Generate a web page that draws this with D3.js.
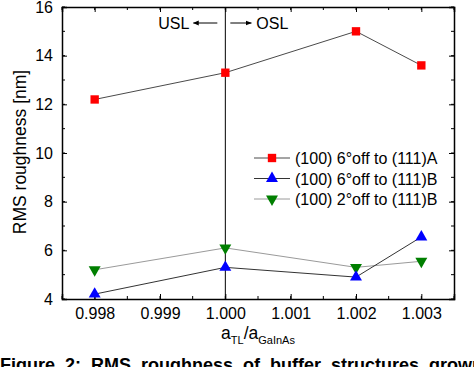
<!DOCTYPE html>
<html>
<head>
<meta charset="utf-8">
<script src="https://cdn.jsdelivr.net/npm/d3@7"></script>
<style>
  body { margin: 0; background: #fff; }
  svg { display: block; font-family: "Liberation Sans", Arial, sans-serif; }
</style>
</head>
<body>
<div id="chart"></div>
<script>
// values
var ratio = [0.998, 1.000, 1.002, 1.003];
var seriesA = [12.2, 13.3, 15.0, 13.6];   // (100) 6°off to (111)A
var seriesB = [4.2, 5.3, 4.9, 6.55];      // (100) 6°off to (111)B
var seriesC = [5.2, 6.1, 5.3, 5.55];      // (100) 2°off to (111)B
var seriesNames = ["(100) 6°off to (111)A", "(100) 6°off to (111)B", "(100) 2°off to (111)B"];
var xTicks = [0.998, 0.999, 1.000, 1.001, 1.002, 1.003];
var yTicks = [4, 6, 8, 10, 12, 14, 16];

var margin = {top: 7, right: 20, bottom: 68, left: 62},
    width = 474 - margin.left - margin.right,
    height = 367 - margin.top - margin.bottom;

var svg = d3.select("#chart")
    .append("svg")
    .attr("width", 474)
    .attr("height", 367)
    .append("g")
    .attr("transform", "translate(" + margin.left + "," + margin.top + ")");

var x = d3.scaleLinear().domain([0.9975, 1.0035]).range([0, width]);
var y = d3.scaleLinear().domain([4, 16]).range([height, 0]);

var xMinor = d3.range(0.9975, 1.0036, 0.0005);
var yMinor = d3.range(4, 16.01, 1);

// bottom axis (ticks pointing inward)
var axBottom = svg.append("g")
    .attr("transform", "translate(0," + height + ")");
axBottom.call(d3.axisBottom(x).tickValues(xTicks).tickSize(-5).tickPadding(9)
    .tickFormat(d3.format(".3f")));
axBottom.selectAll(".minor").data(xMinor).enter().append("line")
    .attr("class", "minor")
    .attr("x1", function(d) { return x(d); }).attr("x2", function(d) { return x(d); })
    .attr("y1", 0).attr("y2", -3).attr("stroke", "#000");

// top axis, no labels
var axTop = svg.append("g");
axTop.call(d3.axisTop(x).tickValues(xTicks).tickSize(-5).tickFormat(""));
axTop.selectAll(".minor").data(xMinor).enter().append("line")
    .attr("class", "minor")
    .attr("x1", function(d) { return x(d); }).attr("x2", function(d) { return x(d); })
    .attr("y1", 0).attr("y2", 3).attr("stroke", "#000");

// left axis
var axLeft = svg.append("g");
axLeft.call(d3.axisLeft(y).tickValues(yTicks).tickSize(-5).tickPadding(9));
axLeft.selectAll(".minor").data(yMinor).enter().append("line")
    .attr("class", "minor")
    .attr("y1", function(d) { return y(d); }).attr("y2", function(d) { return y(d); })
    .attr("x1", 0).attr("x2", 3).attr("stroke", "#000");

// right axis
var axRight = svg.append("g").attr("transform", "translate(" + width + ",0)");
axRight.call(d3.axisRight(y).tickValues(yTicks).tickSize(-5).tickFormat(""));
axRight.selectAll(".minor").data(yMinor).enter().append("line")
    .attr("class", "minor")
    .attr("y1", function(d) { return y(d); }).attr("y2", function(d) { return y(d); })
    .attr("x1", 0).attr("x2", -3).attr("stroke", "#000");

svg.selectAll(".domain").attr("stroke", "#000").attr("stroke-width", 1.5);
svg.selectAll(".tick line").attr("stroke", "#000");
svg.selectAll(".tick text").attr("fill", "#000").attr("font-size", 16);

// vertical line at lattice match
svg.append("line")
    .attr("x1", x(1.000)).attr("x2", x(1.000))
    .attr("y1", 0).attr("y2", height)
    .attr("stroke", "#000").attr("stroke-width", 1);

// USL / OSL arrows
var defs = svg.append("defs");
defs.append("marker")
    .attr("id", "head")
    .attr("viewBox", "0 0 10 10")
    .attr("refX", 9).attr("refY", 5)
    .attr("markerWidth", 6).attr("markerHeight", 6)
    .attr("orient", "auto")
    .append("path").attr("d", "M0,1 L10,5 L0,9 Z").attr("fill", "#000");

var arrowY = 16;
svg.append("line")
    .attr("x1", x(1.000) - 8).attr("x2", x(1.000) - 32)
    .attr("y1", arrowY).attr("y2", arrowY)
    .attr("stroke", "#000").attr("stroke-width", 1)
    .attr("marker-end", "url(#head)");
svg.append("line")
    .attr("x1", x(1.000) + 5).attr("x2", x(1.000) + 26)
    .attr("y1", arrowY).attr("y2", arrowY)
    .attr("stroke", "#000").attr("stroke-width", 1)
    .attr("marker-end", "url(#head)");
svg.append("text")
    .attr("x", x(1.000) - 36).attr("y", arrowY + 6)
    .attr("text-anchor", "end")
    .style("font-size", "16px")
    .text("USL");
svg.append("text")
    .attr("x", x(1.000) + 31).attr("y", arrowY + 6)
    .style("font-size", "16px")
    .text("OSL");

// series
var sq = d3.symbol().type(d3.symbolSquare).size(70);
var tri = d3.symbol().type(d3.symbolTriangle).size(62);

var series = [
  {name: seriesNames[0], values: seriesA, line: "#4a4a4a", fill: "#ff0000", sym: sq, rot: 0},
  {name: seriesNames[1], values: seriesB, line: "#333333", fill: "#0000ff", sym: tri, rot: 0},
  {name: seriesNames[2], values: seriesC, line: "#9a9a9a", fill: "#007f00", sym: tri, rot: 180}
];

var line = d3.line()
    .x(function(d) { return x(d[0]); })
    .y(function(d) { return y(d[1]); });

// lines first, then markers on top
[2, 1, 0].forEach(function(i) {
  var s = series[i];
  var pts = ratio.map(function(r, j) { return [r, s.values[j]]; });
  svg.append("path")
      .datum(pts)
      .attr("d", line)
      .attr("fill", "none")
      .attr("stroke", s.line)
      .attr("stroke-width", 1);
});
[2, 1, 0].forEach(function(i) {
  var s = series[i];
  var pts = ratio.map(function(r, j) { return [r, s.values[j]]; });
  svg.append("g").selectAll("path")
      .data(pts)
      .enter().append("path")
      .attr("d", s.sym)
      .attr("transform", function(d) {
        return "translate(" + x(d[0]) + "," + y(d[1]) + ") rotate(" + s.rot + ")";
      })
      .attr("fill", s.fill);
});

// legend
var legend = svg.append("g")
    .attr("transform", "translate(" + (254 - margin.left) + "," + (158 - margin.top) + ")");
series.forEach(function(s, i) {
  var g = legend.append("g").attr("transform", "translate(0," + (i * 20.5) + ")");
  g.append("line").attr("x1", 0).attr("x2", 36).attr("y1", 0).attr("y2", 0)
      .attr("stroke", s.line).attr("stroke-width", 1);
  g.append("path").attr("d", s.sym)
      .attr("transform", "translate(18,0) rotate(" + s.rot + ")")
      .attr("fill", s.fill);
  g.append("text").attr("x", 41).attr("y", 6)
      .style("font-size", "16px")
      .text(s.name);
});

// axis titles
svg.append("text")
    .attr("transform", "rotate(-90)")
    .attr("x", -(152 - margin.top))
    .attr("y", 26 - margin.left)
    .attr("text-anchor", "middle")
    .style("font-size", "17.5px")
    .text("RMS roughness [nm]");

var xl = svg.append("text")
    .attr("x", 258 - margin.left)
    .attr("y", 339 - margin.top)
    .attr("text-anchor", "middle")
    .style("font-size", "17.5px");
xl.append("tspan").text("a");
xl.append("tspan").attr("dy", 5).style("font-size", "11px").text("TL");
xl.append("tspan").attr("dy", -5).text("/a");
xl.append("tspan").attr("dy", 5).style("font-size", "11px").text("GaInAs");

// figure caption, cut off by the bottom edge as in the source image
d3.select("svg").append("text")
    .attr("x", 0)
    .attr("y", 371)
    .style("font-size", "18px")
    .style("font-weight", "bold")
    .style("word-spacing", "5px")
    .text("Figure 2: RMS roughness of buffer structures grown");
</script>
</body>
</html>
